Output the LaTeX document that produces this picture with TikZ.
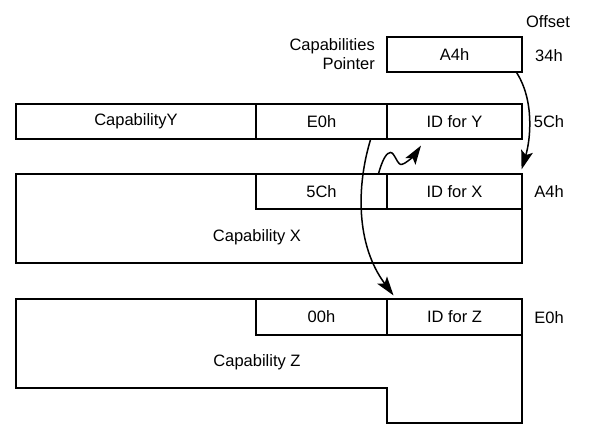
\documentclass[tikz,border=0pt]{standalone}
\usepackage{fontspec}
\setmainfont{Liberation Sans}
\usetikzlibrary{arrows.meta}
\begin{document}
\begin{tikzpicture}[x=1pt,y=-1pt,
  txt/.style={font=\fontsize{16.5}{19}\selectfont, inner sep=0pt},
  cell/.style={txt, draw, line width=1.1pt, minimum height=35pt},
  outline/.style={draw, line width=1.6pt},
  arr/.style={line width=1.5pt, -{Stealth[length=19pt,width=12pt,inset=4pt]}}]
\fill[white] (0,0) rectangle (600,436);
\useasboundingbox (0,0) rectangle (600,436);

% Capabilities pointer
\node[cell, minimum width=135pt] (ptr) at (454.5,54.5) {A4h};
\node[txt, anchor=east, align=right] (ptrlbl) at (375,54) {Capabilities\\Pointer};

% Offsets
\node[txt] (offset) at (548,22) {Offset};
\node[txt] (o34) at (549,56) {34h};
\node[txt] (o5c) at (549,122) {5Ch};
\node[txt] (oa4) at (549,192) {A4h};
\node[txt] (oe0) at (549,318) {E0h};

% Capability Y row
\node[cell, minimum width=240pt] (capY) at (136,121.5) {CapabilityY};
\node[cell, minimum width=131pt] (e0) at (321.5,121.5) {E0h};
\node[cell, minimum width=135pt] (idY) at (454.5,121.5) {ID for Y};
\draw[outline] (capY.north west) rectangle (idY.south east);

% Capability X
\node[cell, minimum width=131pt] (x5c) at (321.5,191.5) {5Ch};
\node[cell, minimum width=135pt] (idX) at (454.5,191.5) {ID for X};
\node[outline, minimum width=506pt, minimum height=89pt, inner sep=0pt] (boxX) at (269,218.5) {};
\node[txt] (capX) at (257,237) {Capability X};

% Capability Z
\node[cell, minimum width=131pt, minimum height=36pt] (z00) at (321.5,317) {00h};
\node[cell, minimum width=135pt, minimum height=36pt] (idZ) at (454.5,317) {ID for Z};
\draw[outline] (16,299) -- (522,299) -- (522,423) -- (387,423) -- (387,388) -- (16,388) -- cycle;
\node[txt] (capZ) at (257,362) {Capability Z};

% Arrows
\draw[arr] ([xshift=-6pt]ptr.south east) .. controls +(18,28) and +(9,-30) .. ([xshift=-1pt,yshift=4pt]idX.north east);
\draw[arr] ([xshift=-17pt]e0.south east) .. controls +(-14,46) and +(-38,-51) .. ([xshift=6pt,yshift=3pt]z00.north east);
\draw[arr] ([xshift=-9pt]x5c.north east) .. controls +(4,-14) and +(-4,0) .. ++(12,-21)
  .. controls +(4,0) and +(-4,1) .. ++(11,12)
  .. controls +(5,-1) and +(-6,9) .. ([xshift=-33.5pt,yshift=-6pt]idY.south);
\end{tikzpicture}
\end{document}
